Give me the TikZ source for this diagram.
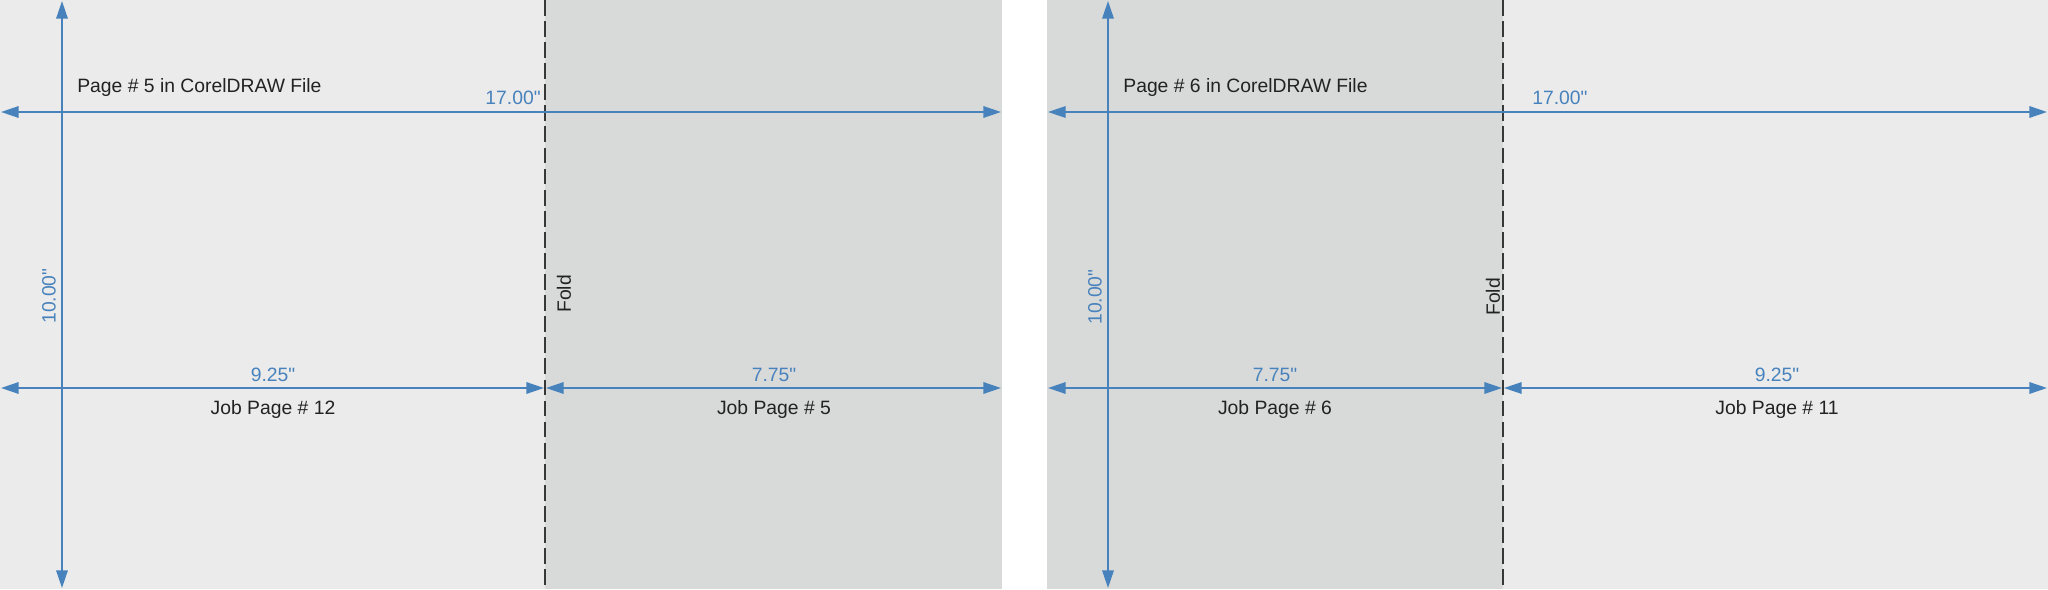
\documentclass[tikz,border=0pt]{standalone}
\usepackage{fontspec}
\setmainfont{Liberation Sans}[Ligatures=TeXOff]
\usetikzlibrary{arrows.meta}
\definecolor{dimblue}{RGB}{72,130,188}
\definecolor{sheetlight}{RGB}{235,235,235}
\definecolor{sheetdark}{RGB}{216,218,218}
\definecolor{foldgray}{RGB}{55,55,55}
\definecolor{labelgray}{RGB}{34,34,34}
\tikzset{
	dimline/.style = {dimblue, line width=1pt, {Triangle[length=10pt,width=6.5pt]}-{Triangle[length=10pt,width=6.5pt]}},
	dimlabel/.style = {text=dimblue, font=\fontsize{11}{13}\selectfont, inner sep=0pt},
	joblabel/.style = {text=labelgray, font=\fontsize{11}{13}\selectfont, inner sep=0pt},
	foldline/.style = {foldgray, line width=1.1pt, dash pattern=on 9pt off 3pt},
}
\begin{document}
\begin{tikzpicture}[x=0.02cm, y=0.02cm]
	\useasboundingbox (0,0) rectangle (2048,589);

	% the two sheets
	\fill[sheetlight] (0,0) rectangle (545,589);
	\fill[sheetdark] (545,0) rectangle (1002,589);
	\fill[sheetdark] (1047,0) rectangle (1503,589);
	\fill[sheetlight] (1503,0) rectangle (2048,589);

	% page 5
	\coordinate (fiveN) at (62,588);
	\coordinate (fiveS) at (62,1);
	\coordinate (fiveW) at (1,477);
	\coordinate (fiveE) at (1001,477);
	\coordinate (fiveBW) at (1,201);
	\coordinate (fiveBF) at (544,201);
	\coordinate (fiveBG) at (546,201);
	\coordinate (fiveBE) at (1001,201);
	\coordinate (fiveFoldT) at (545,589);
	\coordinate (fiveFoldB) at (545,0);

	\draw[foldline] (fiveFoldT) -- (fiveFoldB);
	\draw[dimline] (fiveS) -- (fiveN);
	\draw[dimline] (fiveW) -- (fiveE);
	\draw[dimline] (fiveBW) -- (fiveBF);
	\draw[dimline] (fiveBG) -- (fiveBE);

	\node[joblabel, anchor=base west] (fiveTitle) at (77,496) {Page \# 5 in CorelDRAW File};
	\node[dimlabel, anchor=base east] (fiveWidth) at (541,484) {17.00"};
	\node[dimlabel, rotate=90] (fiveHeight) at (49,293) {10.00"};
	\node[joblabel, rotate=90] (fiveFold) at (564,295) {Fold};
	\node[dimlabel, anchor=base] (fiveLeftW) at (273,208) {9.25"};
	\node[joblabel, anchor=base] (fiveLeftJob) at (273,175) {Job Page \# 12};
	\node[dimlabel, anchor=base] (fiveRightW) at (774,208) {7.75"};
	\node[joblabel, anchor=base] (fiveRightJob) at (774,175) {Job Page \# 5};

	% page 6
	\coordinate (sixN) at (1108,588);
	\coordinate (sixS) at (1108,1);
	\coordinate (sixW) at (1048,477);
	\coordinate (sixE) at (2047,477);
	\coordinate (sixBW) at (1048,201);
	\coordinate (sixBF) at (1502,201);
	\coordinate (sixBG) at (1504,201);
	\coordinate (sixBE) at (2047,201);
	\coordinate (sixFoldT) at (1503,589);
	\coordinate (sixFoldB) at (1503,0);

	\draw[foldline] (sixFoldT) -- (sixFoldB);
	\draw[dimline] (sixS) -- (sixN);
	\draw[dimline] (sixW) -- (sixE);
	\draw[dimline] (sixBW) -- (sixBF);
	\draw[dimline] (sixBG) -- (sixBE);

	\node[joblabel, anchor=base west] (sixTitle) at (1123,496) {Page \# 6 in CorelDRAW File};
	\node[dimlabel, anchor=base west] (sixWidth) at (1532,484) {17.00"};
	\node[dimlabel, rotate=90] (sixHeight) at (1095,292) {10.00"};
	\node[joblabel, rotate=90] (sixFold) at (1493,292) {Fold};
	\node[dimlabel, anchor=base] (sixLeftW) at (1275,208) {7.75"};
	\node[joblabel, anchor=base] (sixLeftJob) at (1275,175) {Job Page \# 6};
	\node[dimlabel, anchor=base] (sixRightW) at (1777,208) {9.25"};
	\node[joblabel, anchor=base] (sixRightJob) at (1777,175) {Job Page \# 11};
\end{tikzpicture}
\end{document}
